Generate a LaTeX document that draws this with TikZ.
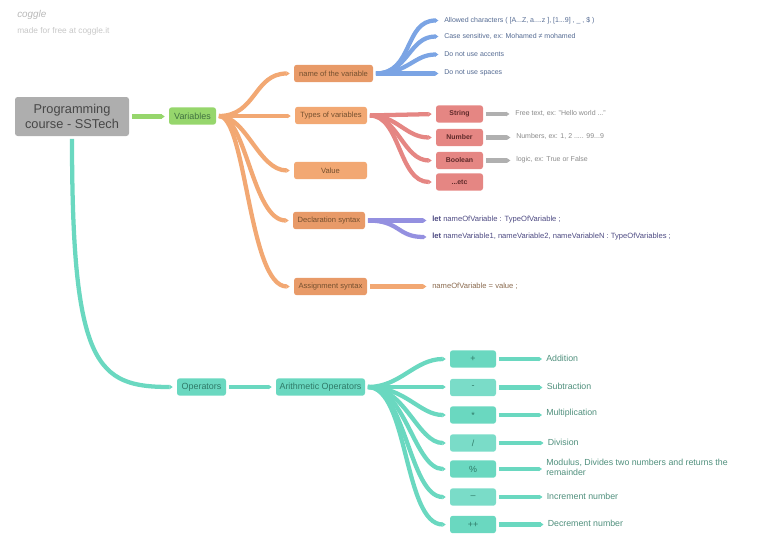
\documentclass[tikz,border=0pt]{standalone}
\usepackage{fontspec}
\setmainfont{Liberation Sans}
\usetikzlibrary{arrows.meta}
\definecolor{rootfill}{HTML}{AEAEAE}
\definecolor{varfill}{HTML}{96D66C}
\definecolor{orgA}{HTML}{E89A68}
\definecolor{orgB}{HTML}{F2A873}
\definecolor{orgtext}{HTML}{75502F}
\definecolor{bluelink}{HTML}{7BA4E4}
\definecolor{bluetext}{HTML}{546A92}
\definecolor{redfill}{HTML}{E58683}
\definecolor{redtext}{HTML}{5F2A2A}
\definecolor{purplelink}{HTML}{9490E0}
\definecolor{purpletext}{HTML}{4D4A82}
\definecolor{graylink}{HTML}{B0B0B0}
\definecolor{graytext}{HTML}{8A8A8A}
\definecolor{teal}{HTML}{6AD8C0}
\definecolor{teallight}{HTML}{7ADCC8}
\definecolor{tealtext}{HTML}{2F7A68}
\definecolor{tealleaf}{HTML}{4F8F7C}
\tikzset{
  boxw/.style={minimum width=#1*0.75pt},
  card/.style={rounded corners=2pt,inner sep=0pt,align=center,minimum height=13pt},
  rootcard/.style={card,fill=rootfill,text=black!72,minimum height=29.25pt,font=\fontsize{9.6}{11.25}\selectfont},
  varcard/.style={card,fill=varfill,text=green!25!black!75,font=\fontsize{6.7}{8}\selectfont},
  orgcard/.style={card,fill=orgB,text=orgtext,font=\fontsize{5.7}{7}\selectfont},
  redcard/.style={card,fill=redfill,text=redtext,font=\bfseries\fontsize{5.2}{7}\selectfont},
  tealcard/.style={card,fill=teal,text=tealtext,font=\fontsize{6.7}{8}\selectfont},
  leaf/.style={anchor=west,inner sep=0pt,align=left,font=\fontsize{5.25}{7}\selectfont},
  midleaf/.style={leaf,font=\fontsize{5.7}{7}\selectfont},
  bigleaf/.style={leaf,text=tealleaf,font=\fontsize{6.6}{7.5}\selectfont},
  link/.style={line width=3.2pt,-{Triangle[length=2.4pt,width=3.2pt]},shorten <=2pt,shorten >=3pt},
  farlink/.style={link,shorten >=4.2pt},
}
\begin{document}
\begin{tikzpicture}[x=.75pt,y=-.75pt,join=round]
        \useasboundingbox (0,0) rectangle (768,554);
        % watermark
        \node[leaf,text=black!28,font=\itshape\fontsize{7.4}{9}\selectfont] (logo) at (17,15) {coggle};
        \node[leaf,text=black!22,font=\fontsize{6.25}{8}\selectfont] (madefor) at (17,31) {made for free at coggle.it};
        % cards
        \node[rootcard,boxw=114] (root) at (72,116.5) {Programming\\course - SSTech};
        \node[varcard,boxw=47] (vars) at (192.5,116) {Variables};
        \node[orgcard,boxw=79,fill=orgA] (name) at (333.5,73.5) {name of the variable};
        \node[orgcard,boxw=72] (types) at (331,115.5) {Types of variables};
        \node[orgcard,boxw=73] (value) at (330.5,170.5) {Value};
        \node[orgcard,boxw=72,fill=orgA] (decl) at (329,220.5) {Declaration syntax};
        \node[orgcard,boxw=73,fill=orgA] (assign) at (330.5,286.5) {Assignment syntax};
        \node[redcard,boxw=47] (string) at (459.5,114) {String};
        \node[redcard,boxw=47] (number) at (459.5,137.5) {Number};
        \node[redcard,boxw=47] (boolean) at (459.5,160.5) {Boolean};
        \node[redcard,boxw=47] (etc) at (459.5,182) {...etc};
        \node[tealcard,boxw=49] (oper) at (201.5,387) {Operators};
        \node[tealcard,boxw=89] (arith) at (320.5,387) {Arithmetic Operators};
        \node[tealcard,boxw=46] (add) at (473,359) {+};
        \node[tealcard,boxw=46,fill=teallight] (sub) at (473,387.5) {-};
        \node[tealcard,boxw=46] (mul) at (473,415) {*};
        \node[tealcard,boxw=46,fill=teallight] (div) at (473,443) {/};
        \node[tealcard,boxw=46] (mod) at (473,469) {\%};
        \node[tealcard,boxw=46,fill=teallight] (incr) at (473,497) {--};
        \node[tealcard,boxw=46] (decr) at (473,524.5) {++};
        % texts
        \node[leaf,text=bluetext] (allowed) at (444,20.5) {Allowed characters ( [A...Z, a....z ], [1...9] , \_ , \$ )};
        \node[leaf,text=bluetext] (casesens) at (444,36.5) {Case sensitive, ex: Mohamed ≠ mohamed};
        \node[leaf,text=bluetext] (accents) at (444,54.5) {Do not use accents};
        \node[leaf,text=bluetext] (spaces) at (444,72.5) {Do not use spaces};
        \node[leaf,text=graytext] (strtext) at (515,113.5) {Free text, ex: "Hello world ..."};
        \node[leaf,text=graytext] (numtext) at (516,136.5) {Numbers, ex: 1, 2 ..... 99...9};
        \node[leaf,text=graytext] (booltext) at (516,159.5) {logic, ex: True or False};
        \node[midleaf,text=purpletext] (letone) at (432,220) {\textbf{let} nameOfVariable : TypeOfVariable ;};
        \node[midleaf,text=purpletext] (lettwo) at (432,237) {\textbf{let} nameVariable1, nameVariable2, nameVariableN : TypeOfVariables ;};
        \node[midleaf,text=orgtext!85] (assigntext) at (432,286) {nameOfVariable = value ;};
        \node[bigleaf] (addtext) at (546,358.5) {Addition};
        \node[bigleaf] (subtext) at (546.5,386.5) {Subtraction};
        \node[bigleaf] (multext) at (546,413.5) {Multiplication};
        \node[bigleaf] (divtext) at (547.5,442.5) {Division};
        \node[bigleaf] (modtext) at (546,467.5) {Modulus, Divides two numbers and returns the\\remainder};
        \node[bigleaf] (incrtext) at (546.5,496) {Increment number};
        \node[bigleaf] (decrtext) at (547.5,523.5) {Decrement number};
        % root links
        \draw[link,varfill] (root.east) -- (root.east -| vars.west);
        \draw[link,teal] (root.south) .. controls +(0,230) and +(-80,0) .. (oper.west);
        % variables
        \draw[link,orgB] (vars.east) .. controls +(40,0) and +(-40,0) .. (name.west);
        \draw[link,orgB] (vars.east) -- (vars.east -| types.west);
        \draw[link,orgB] (vars.east) .. controls +(30,0) and +(-35,0) .. (value.west);
        \draw[link,orgB] (vars.east) .. controls +(30,0) and +(-40,0) .. (decl.west);
        \draw[link,orgB] (vars.east) .. controls +(30,0) and +(-45,0) .. (assign.west);
        % name of the variable
        \draw[farlink,bluelink] (name.east) .. controls +(40,0) and +(-40,0) .. (allowed.west);
        \draw[farlink,bluelink] (name.east) .. controls +(35,0) and +(-35,0) .. (casesens.west);
        \draw[farlink,bluelink] (name.east) .. controls +(35,0) and +(-30,0) .. (accents.west);
        \draw[farlink,bluelink] (name.east) -- (name.east -| spaces.west);
        % types
        \draw[link,redfill] (types.east) -- (string.west);
        \draw[link,redfill] (types.east) .. controls +(30,0) and +(-30,0) .. (number.west);
        \draw[link,redfill] (types.east) .. controls +(30,0) and +(-32,0) .. (boolean.west);
        \draw[link,redfill] (types.east) .. controls +(33,0) and +(-37,0) .. (etc.west);
        \draw[farlink,graylink] (string.east) -- (string.east -| strtext.west);
        \draw[farlink,graylink] (number.east) -- (number.east -| numtext.west);
        \draw[farlink,graylink] (boolean.east) -- (boolean.east -| booltext.west);
        % syntax
        \draw[farlink,purplelink] (decl.east) -- (decl.east -| letone.west);
        \draw[farlink,purplelink] (decl.east) .. controls +(35,0) and +(-35,0) .. (lettwo.west);
        \draw[farlink,orgB] (assign.east) -- (assign.east -| assigntext.west);
        % operators
        \draw[link,teal] (oper.east) -- (arith.west);
        \draw[link,teal] (arith.east) .. controls +(35,0) and +(-35,0) .. (add.west);
        \draw[link,teal] (arith.east) -- (arith.east -| sub.west);
        \draw[link,teal] (arith.east) .. controls +(40,0) and +(-30,0) .. (mul.west);
        \draw[link,teal] (arith.east) .. controls +(40,0) and +(-32,0) .. (div.west);
        \draw[link,teal] (arith.east) .. controls +(40,0) and +(-35,0) .. (mod.west);
        \draw[link,teal] (arith.east) .. controls +(40,0) and +(-40,0) .. (incr.west);
        \draw[link,teal] (arith.east) .. controls +(43,0) and +(-46,0) .. (decr.west);
        \draw[link,teal] (add.east) -- (add.east -| addtext.west);
        \draw[link,teal] (sub.east) -- (sub.east -| subtext.west);
        \draw[link,teal] (mul.east) -- (mul.east -| multext.west);
        \draw[link,teal] (div.east) -- (div.east -| divtext.west);
        \draw[link,teal] (mod.east) -- (mod.east -| modtext.west);
        \draw[link,teal] (incr.east) -- (incr.east -| incrtext.west);
        \draw[link,teal] (decr.east) -- (decr.east -| decrtext.west);
\end{tikzpicture}
\end{document}
